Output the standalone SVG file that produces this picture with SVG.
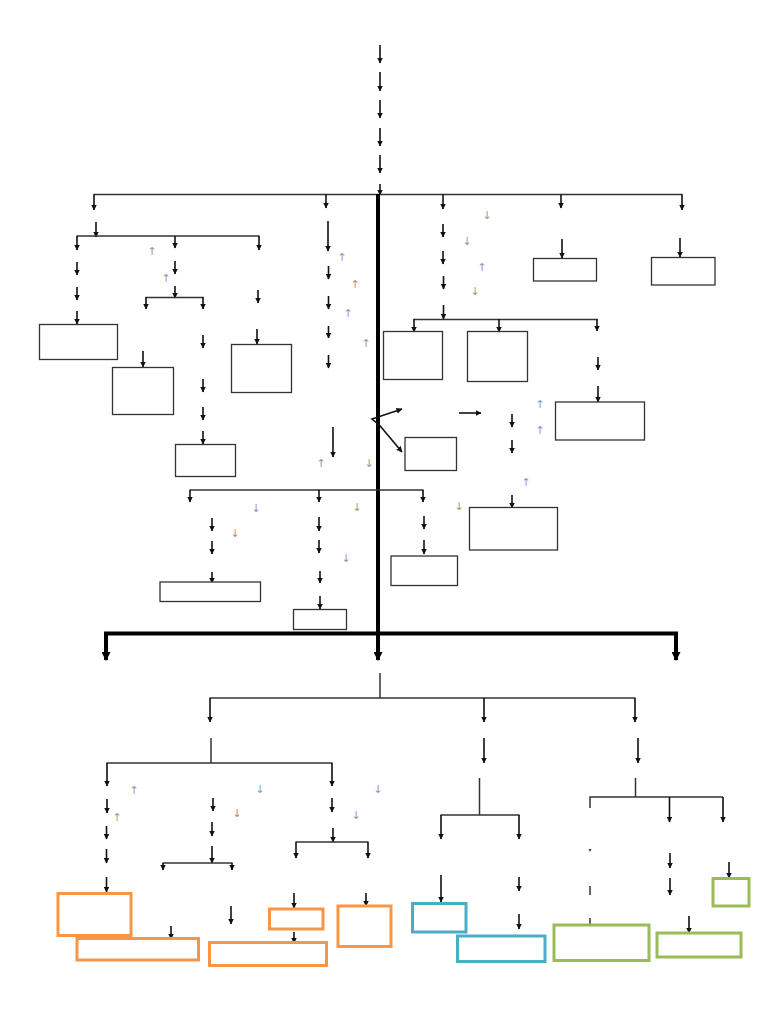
<svg xmlns="http://www.w3.org/2000/svg" width="768" height="1024" viewBox="0 0 768 1024">
<defs>
<marker id="ah" markerUnits="userSpaceOnUse" markerWidth="6" markerHeight="6" refX="5.5" refY="3" orient="auto"><path d="M0,0 L6,3 L0,6 z" fill="#111"/></marker>
<marker id="ahb" markerUnits="userSpaceOnUse" markerWidth="9" markerHeight="9" refX="8" refY="4.5" orient="auto"><path d="M0,0 L9,4.5 L0,9 z" fill="#000"/></marker>
<style>
.c{stroke:#333;stroke-width:1.5;fill:none}
.a{stroke:#111;stroke-width:1.6;fill:none;marker-end:url(#ah)}
.t{stroke:#000;stroke-width:4;fill:none}
.tb{stroke:#000;stroke-width:4;fill:none;marker-end:url(#ahb)}
.n{fill:#fff;stroke:#333;stroke-width:1.3}
.o{fill:#fff;stroke:#F79646;stroke-width:3}
.b{fill:#fff;stroke:#4BACC6;stroke-width:3}
.g{fill:#fff;stroke:#9BBB59;stroke-width:3}
.gl{font-family:"DejaVu Sans",sans-serif;font-size:11px;fill:#999;text-anchor:middle;dominant-baseline:central}
</style>
</defs>
<rect width="768" height="1024" fill="#fff"/>
<g id="connectors">
<!-- top -->
<line class="a" x1="380" y1="45" x2="380" y2="63"/>
<line class="a" x1="380" y1="72" x2="380" y2="91"/>
<line class="a" x1="380" y1="100" x2="380" y2="118"/>
<line class="a" x1="380" y1="128" x2="380" y2="146"/>
<line class="a" x1="380" y1="155" x2="380" y2="173"/>
<line class="a" x1="380" y1="184" x2="380" y2="195"/>
<line class="c" x1="93.5" y1="194.5" x2="682.5" y2="194.5"/>
<line class="a" x1="94" y1="194.5" x2="94" y2="210"/>
<line class="a" x1="326" y1="194.5" x2="326" y2="208"/>
<line class="a" x1="443" y1="194.5" x2="443" y2="209"/>
<line class="a" x1="561" y1="194.5" x2="561" y2="208"/>
<line class="a" x1="682" y1="194.5" x2="682" y2="210"/>
<!-- thick trunk -->
<line class="t" x1="378" y1="194" x2="378" y2="640"/>
<line class="tb" x1="378" y1="630" x2="378" y2="660"/>
<path class="t" d="M106,650 V633.5 H676 V650"/>
<line class="tb" x1="106" y1="640" x2="106" y2="660"/>
<line class="tb" x1="676" y1="640" x2="676" y2="660"/>
<!-- left branch -->
<line class="a" x1="96" y1="222" x2="96" y2="237"/>
<line class="c" x1="76.5" y1="236" x2="259.5" y2="236"/>
<line class="a" x1="77" y1="236" x2="77" y2="250"/>
<line class="a" x1="175" y1="236" x2="175" y2="248"/>
<line class="a" x1="259" y1="236" x2="259" y2="250"/>
<line class="a" x1="77" y1="262" x2="77" y2="275"/>
<line class="a" x1="77" y1="287" x2="77" y2="300"/>
<line class="a" x1="77" y1="311" x2="77" y2="324"/>
<line class="a" x1="175" y1="261" x2="175" y2="274"/>
<line class="a" x1="175" y1="286" x2="175" y2="298"/>
<line class="c" x1="145.5" y1="297.5" x2="203.5" y2="297.5"/>
<line class="a" x1="146" y1="297" x2="146" y2="309"/>
<line class="a" x1="203" y1="297" x2="203" y2="309"/>
<line class="a" x1="143" y1="351" x2="143" y2="367"/>
<line class="a" x1="203" y1="335" x2="203" y2="348"/>
<line class="a" x1="203" y1="379" x2="203" y2="392"/>
<line class="a" x1="203" y1="407" x2="203" y2="420"/>
<line class="a" x1="203" y1="431" x2="203" y2="444"/>
<line class="a" x1="258" y1="290" x2="258" y2="303"/>
<line class="a" x1="257" y1="329" x2="257" y2="344"/>
<!-- mid-left column -->
<line class="a" x1="328" y1="221" x2="328" y2="251"/>
<line class="a" x1="328.5" y1="266" x2="328.5" y2="279"/>
<line class="a" x1="328.5" y1="296" x2="328.5" y2="309"/>
<line class="a" x1="328.5" y1="326" x2="328.5" y2="338"/>
<line class="a" x1="328.5" y1="355" x2="328.5" y2="368"/>
<line class="a" x1="333" y1="427" x2="333" y2="457"/>
<!-- right branch -->
<line class="a" x1="443" y1="224" x2="443" y2="237"/>
<line class="a" x1="443" y1="251" x2="443" y2="264"/>
<line class="a" x1="443.5" y1="276" x2="443.5" y2="289"/>
<line class="a" x1="443.5" y1="305" x2="443.5" y2="319"/>
<line class="c" x1="413.5" y1="319.5" x2="597.5" y2="319.5"/>
<line class="a" x1="414" y1="319" x2="414" y2="332"/>
<line class="a" x1="499" y1="319" x2="499" y2="332"/>
<line class="a" x1="597" y1="319" x2="597" y2="331"/>
<line class="a" x1="598" y1="357" x2="598" y2="370"/>
<line class="a" x1="598" y1="386" x2="598" y2="402"/>
<line class="a" x1="562" y1="239" x2="562" y2="258"/>
<line class="a" x1="680" y1="238" x2="680" y2="257"/>
<!-- diagonals -->
<polyline class="a" points="378,424 372,419 402,409"/>
<line class="a" x1="376" y1="421" x2="402" y2="452"/>
<line class="a" x1="459" y1="413" x2="481" y2="413"/>
<line class="a" x1="512" y1="414" x2="512" y2="427"/>
<line class="a" x1="512" y1="440" x2="512" y2="453"/>
<line class="a" x1="512" y1="495" x2="512" y2="508"/>
<!-- lower mid bar -->
<line class="c" x1="189.5" y1="490" x2="423.5" y2="490"/>
<line class="a" x1="190" y1="490" x2="190" y2="502"/>
<line class="a" x1="319" y1="490" x2="319" y2="502"/>
<line class="a" x1="423" y1="490" x2="423" y2="502"/>
<line class="a" x1="212" y1="518" x2="212" y2="531"/>
<line class="a" x1="212" y1="541" x2="212" y2="554"/>
<line class="a" x1="212" y1="572" x2="212" y2="583"/>
<line class="a" x1="319" y1="517" x2="319" y2="531"/>
<line class="a" x1="319" y1="540" x2="319" y2="553"/>
<line class="a" x1="320" y1="571" x2="320" y2="583"/>
<line class="a" x1="320" y1="596" x2="320" y2="609"/>
<line class="a" x1="424" y1="516" x2="424" y2="529"/>
<line class="a" x1="424" y1="540" x2="424" y2="554"/>
<!-- bottom section -->
<line class="c" x1="380" y1="673" x2="380" y2="698"/>
<line class="c" x1="209.5" y1="698" x2="635.5" y2="698"/>
<line class="a" x1="210" y1="698" x2="210" y2="722"/>
<line class="a" x1="484" y1="698" x2="484" y2="722"/>
<line class="a" x1="635" y1="698" x2="635" y2="722"/>
<line class="a" x1="484" y1="738" x2="484" y2="763"/>
<line class="a" x1="638" y1="738" x2="638" y2="763"/>
<!-- orange area -->
<line class="c" x1="211" y1="738" x2="211" y2="763"/>
<line class="c" x1="106.5" y1="763" x2="332.5" y2="763"/>
<line class="a" x1="107" y1="763" x2="107" y2="786"/>
<line class="a" x1="332" y1="763" x2="332" y2="786"/>
<line class="a" x1="107" y1="799" x2="107" y2="813"/>
<line class="a" x1="106.5" y1="826" x2="106.5" y2="839"/>
<line class="a" x1="106.5" y1="849" x2="106.5" y2="863"/>
<line class="a" x1="106.5" y1="877" x2="106.5" y2="892"/>
<line class="a" x1="171" y1="926" x2="171" y2="939"/>
<line class="a" x1="213" y1="798" x2="213" y2="811"/>
<line class="a" x1="212" y1="822" x2="212" y2="836"/>
<line class="a" x1="212" y1="846" x2="212" y2="863"/>
<line class="c" x1="162.5" y1="863" x2="232.5" y2="863"/>
<line class="a" x1="163" y1="863" x2="163" y2="870"/>
<line class="a" x1="232" y1="863" x2="232" y2="870"/>
<line class="a" x1="231" y1="906" x2="231" y2="924"/>
<line class="a" x1="332" y1="798" x2="332" y2="812"/>
<line class="a" x1="333" y1="828" x2="333" y2="842"/>
<line class="c" x1="295.5" y1="842" x2="368.5" y2="842"/>
<line class="a" x1="296" y1="842" x2="296" y2="858"/>
<line class="a" x1="368" y1="842" x2="368" y2="858"/>
<line class="a" x1="294" y1="893" x2="294" y2="908"/>
<line class="a" x1="294" y1="932" x2="294" y2="943"/>
<line class="a" x1="366" y1="893" x2="366" y2="906"/>
<!-- blue area -->
<line class="c" x1="479.5" y1="778" x2="479.5" y2="815"/>
<line class="c" x1="440.5" y1="815" x2="519.5" y2="815"/>
<line class="a" x1="441" y1="815" x2="441" y2="839"/>
<line class="a" x1="519" y1="815" x2="519" y2="839"/>
<line class="a" x1="441" y1="875" x2="441" y2="902"/>
<line class="a" x1="519" y1="877" x2="519" y2="891"/>
<line class="a" x1="519" y1="914" x2="519" y2="929"/>
<!-- green area -->
<line class="c" x1="635.5" y1="778" x2="635.5" y2="797"/>
<path class="c" d="M590,808 V797 H723"/>
<line class="a" x1="669.5" y1="797" x2="669.5" y2="822"/>
<line class="a" x1="723" y1="797" x2="723" y2="822"/>
<path d="M588.5,849 L591.5,849 L590,852 z" fill="#333"/>
<line class="c" x1="590" y1="886" x2="590" y2="895"/>
<line class="c" x1="590" y1="918" x2="590" y2="925"/>
<line class="a" x1="670" y1="853" x2="670" y2="868"/>
<line class="a" x1="670" y1="878" x2="670" y2="895"/>
<line class="a" x1="689" y1="916" x2="689" y2="933"/>
<line class="a" x1="729" y1="862" x2="729" y2="878"/>
</g>
<g id="n-L1"><rect class="n" x="39.5" y="324.5" width="78" height="35"/></g>
<g id="n-L2"><rect class="n" x="112.5" y="367.5" width="61" height="47"/></g>
<g id="n-L3"><rect class="n" x="175.5" y="444.5" width="60" height="32"/></g>
<g id="n-L4"><rect class="n" x="231.5" y="344.5" width="60" height="48"/></g>
<g id="n-R1"><rect class="n" x="383.5" y="331.5" width="59" height="48"/></g>
<g id="n-R2"><rect class="n" x="467.5" y="331.5" width="60" height="50"/></g>
<g id="n-R3"><rect class="n" x="555.5" y="402" width="89" height="38"/></g>
<g id="n-R4"><rect class="n" x="533.5" y="258.5" width="63" height="22.5"/></g>
<g id="n-R5"><rect class="n" x="651.5" y="257.5" width="63.5" height="27.5"/></g>
<g id="n-R6"><rect class="n" x="405" y="437.5" width="51.5" height="33"/></g>
<g id="n-R7"><rect class="n" x="469.5" y="507.5" width="88" height="42.5"/></g>
<g id="n-B1"><rect class="n" x="160" y="582" width="100.5" height="19.5"/></g>
<g id="n-B2"><rect class="n" x="293.5" y="609.5" width="53" height="20"/></g>
<g id="n-B3"><rect class="n" x="391" y="556" width="66.5" height="29.5"/></g>
<g id="n-O1"><rect class="o" x="58" y="893.5" width="73" height="42"/></g>
<g id="n-O2"><rect class="o" x="77" y="938.5" width="121.5" height="21.5"/></g>
<g id="n-O3"><rect class="o" x="209.5" y="942.5" width="117" height="23"/></g>
<g id="n-O4"><rect class="o" x="269.5" y="909" width="53.5" height="20"/></g>
<g id="n-O5"><rect class="o" x="338" y="906" width="53" height="40.5"/></g>
<g id="n-B4"><rect class="b" x="412.5" y="903.5" width="53.5" height="28.5"/></g>
<g id="n-B5"><rect class="b" x="457.5" y="936" width="87.5" height="25.5"/></g>
<g id="n-G1"><rect class="g" x="554" y="925" width="95" height="35.5"/></g>
<g id="n-G2"><rect class="g" x="657" y="933" width="84" height="24"/></g>
<g id="n-G3"><rect class="g" x="713" y="878.5" width="36" height="27.5"/></g>
<g id="glyphs">
<text class="gl" x="152" y="251">↑</text>
<text class="gl" x="166" y="278">↑</text>
<text class="gl" x="342" y="257">↑</text>
<text class="gl" x="355" y="284">↑</text>
<text class="gl" x="348" y="313">↑</text>
<text class="gl" x="366" y="343">↑</text>
<text class="gl" x="321" y="463">↑</text>
<text class="gl" x="369" y="463">↓</text>
<text class="gl" x="487" y="215">↓</text>
<text class="gl" x="467" y="241">↓</text>
<text class="gl" x="482" y="267">↑</text>
<text class="gl" x="475" y="291">↓</text>
<text class="gl" x="540" y="404">↑</text>
<text class="gl" x="540" y="430">↑</text>
<text class="gl" x="526" y="482">↑</text>
<text class="gl" x="459" y="506">↓</text>
<text class="gl" x="256" y="508">↓</text>
<text class="gl" x="235" y="533">↓</text>
<text class="gl" x="357" y="507">↓</text>
<text class="gl" x="346" y="558">↓</text>
<text class="gl" x="134" y="790">↑</text>
<text class="gl" x="117" y="817">↑</text>
<text class="gl" x="260" y="789">↓</text>
<text class="gl" x="237" y="813">↓</text>
<text class="gl" x="378" y="789">↓</text>
<text class="gl" x="356" y="815">↓</text>
</g>
</svg>
